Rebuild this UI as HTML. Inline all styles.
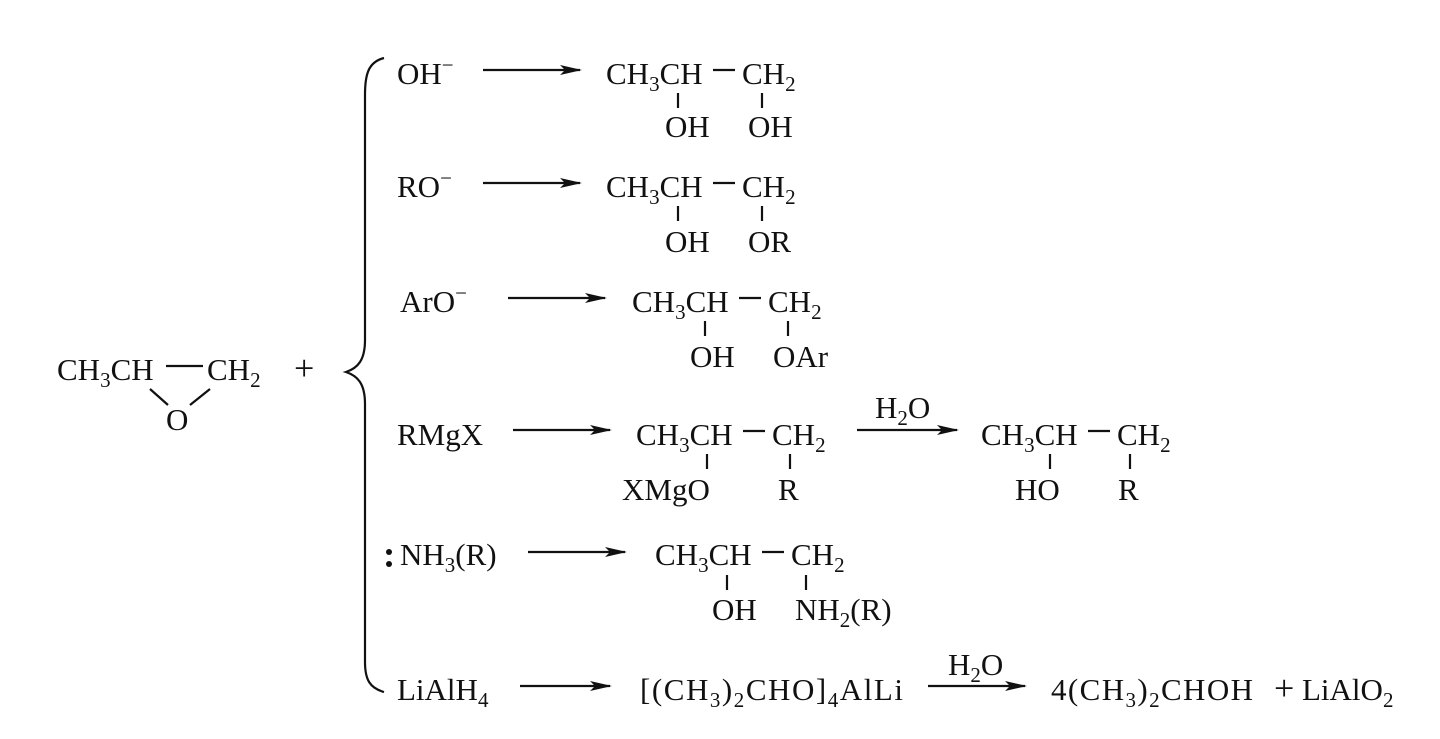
<!DOCTYPE html>
<html><head><style>
html,body{margin:0;padding:0;background:#fff;}
svg{display:block;}
text{font-family:"Liberation Serif",serif;font-size:31px;fill:#111;}
.s{font-size:21px;}
.p{font-size:36px;}
line,path{stroke:#111;stroke-width:2.2;fill:none;}
</style></head><body>
<svg width="1440" height="739" viewBox="0 0 1440 739" xmlns="http://www.w3.org/2000/svg">
<defs><marker id="a" markerWidth="24" markerHeight="12" refX="20" refY="6" orient="auto" markerUnits="userSpaceOnUse"><path d="M0,1 L22,6 L0,11 L5,6 Z" style="fill:#111;stroke:none"/></marker></defs>
<!-- left reactant -->
<text x="57" y="380">CH<tspan class="s" dy="7">3</tspan><tspan dy="-7">CH</tspan></text>
<line x1="166" y1="366" x2="203" y2="366"/>
<text x="207" y="380">CH<tspan class="s" dy="7">2</tspan></text>
<line x1="150" y1="389" x2="168" y2="405"/>
<line x1="210" y1="389" x2="190" y2="405"/>
<text x="166" y="430">O</text>
<text class="p" x="294" y="380">+</text>
<!-- brace -->
<path d="M384,58 C368,62 365,75 365,95 L365,340 C365,360 358,368 346,372 C358,376 365,384 365,404 L365,662 C365,680 370,688 384,692" stroke-width="3"/>
<!-- row1 -->
<text x="397" y="84">OH<tspan class="s" dy="-12">−</tspan></text>
<line x1="483" y1="70" x2="580" y2="70" marker-end="url(#a)"/>
<text x="606" y="84">CH<tspan class="s" dy="7">3</tspan><tspan dy="-7">CH</tspan></text>
<line x1="713" y1="70" x2="735" y2="70"/>
<text x="742" y="84">CH<tspan class="s" dy="7">2</tspan></text>
<line x1="678" y1="93" x2="678" y2="108"/><line x1="762" y1="93" x2="762" y2="108"/>
<text x="665" y="137">OH</text><text x="748" y="137">OH</text>
<!-- row2 -->
<text x="397" y="197">RO<tspan class="s" dy="-12">−</tspan></text>
<line x1="483" y1="183" x2="580" y2="183" marker-end="url(#a)"/>
<text x="606" y="197">CH<tspan class="s" dy="7">3</tspan><tspan dy="-7">CH</tspan></text>
<line x1="713" y1="183" x2="735" y2="183"/>
<text x="742" y="197">CH<tspan class="s" dy="7">2</tspan></text>
<line x1="678" y1="206" x2="678" y2="221"/><line x1="762" y1="206" x2="762" y2="221"/>
<text x="665" y="252">OH</text><text x="748" y="252">OR</text>
<!-- row3 -->
<text x="400" y="312">ArO<tspan class="s" dy="-12">−</tspan></text>
<line x1="508" y1="298" x2="605" y2="298" marker-end="url(#a)"/>
<text x="632" y="312">CH<tspan class="s" dy="7">3</tspan><tspan dy="-7">CH</tspan></text>
<line x1="739" y1="298" x2="761" y2="298"/>
<text x="768" y="312">CH<tspan class="s" dy="7">2</tspan></text>
<line x1="705" y1="321" x2="705" y2="336"/><line x1="788" y1="321" x2="788" y2="336"/>
<text x="690" y="367">OH</text><text x="773" y="367">OAr</text>
<!-- row4 -->
<text x="397" y="445">RMgX</text>
<line x1="513" y1="430" x2="610" y2="430" marker-end="url(#a)"/>
<text x="636" y="445">CH<tspan class="s" dy="7">3</tspan><tspan dy="-7">CH</tspan></text>
<line x1="743" y1="431" x2="765" y2="431"/>
<text x="772" y="445">CH<tspan class="s" dy="7">2</tspan></text>
<line x1="707" y1="454" x2="707" y2="469"/><line x1="790" y1="454" x2="790" y2="469"/>
<text x="622" y="500">XMgO</text><text x="778" y="500">R</text>
<text x="875" y="418">H<tspan class="s" dy="7">2</tspan><tspan dy="-7">O</tspan></text>
<line x1="857" y1="430" x2="957" y2="430" marker-end="url(#a)"/>
<text x="981" y="445">CH<tspan class="s" dy="7">3</tspan><tspan dy="-7">CH</tspan></text>
<line x1="1088" y1="431" x2="1110" y2="431"/>
<text x="1117" y="445">CH<tspan class="s" dy="7">2</tspan></text>
<line x1="1050" y1="454" x2="1050" y2="469"/><line x1="1130" y1="454" x2="1130" y2="469"/>
<text x="1015" y="500">HO</text><text x="1118" y="500">R</text>
<!-- row5 -->
<circle cx="389" cy="552" r="3" fill="#111"/><circle cx="389" cy="564" r="3" fill="#111"/>
<text x="400" y="565">NH<tspan class="s" dy="7">3</tspan><tspan dy="-7">(R)</tspan></text>
<line x1="528" y1="552" x2="625" y2="552" marker-end="url(#a)"/>
<text x="655" y="565">CH<tspan class="s" dy="7">3</tspan><tspan dy="-7">CH</tspan></text>
<line x1="762" y1="552" x2="784" y2="552"/>
<text x="791" y="565">CH<tspan class="s" dy="7">2</tspan></text>
<line x1="727" y1="575" x2="727" y2="590"/><line x1="806" y1="575" x2="806" y2="590"/>
<text x="712" y="620">OH</text>
<text x="795" y="620">NH<tspan class="s" dy="7">2</tspan><tspan dy="-7">(R)</tspan></text>
<!-- row6 -->
<text x="397" y="700">LiAlH<tspan class="s" dy="7">4</tspan></text>
<line x1="520" y1="686" x2="610" y2="686" marker-end="url(#a)"/>
<text x="640" y="700" textLength="263" lengthAdjust="spacing">[(CH<tspan class="s" dy="7">3</tspan><tspan dy="-7">)</tspan><tspan class="s" dy="7">2</tspan><tspan dy="-7">CHO]</tspan><tspan class="s" dy="7">4</tspan><tspan dy="-7">AlLi</tspan></text>
<text x="948" y="675">H<tspan class="s" dy="7">2</tspan><tspan dy="-7">O</tspan></text>
<line x1="928" y1="686" x2="1025" y2="686" marker-end="url(#a)"/>
<text x="1051" y="700" textLength="202" lengthAdjust="spacing">4(CH<tspan class="s" dy="7">3</tspan><tspan dy="-7">)</tspan><tspan class="s" dy="7">2</tspan><tspan dy="-7">CHOH</tspan></text>
<text class="p" x="1274" y="700">+</text>
<text x="1302" y="700">LiAlO<tspan class="s" dy="7">2</tspan></text>
</svg>
</body></html>
